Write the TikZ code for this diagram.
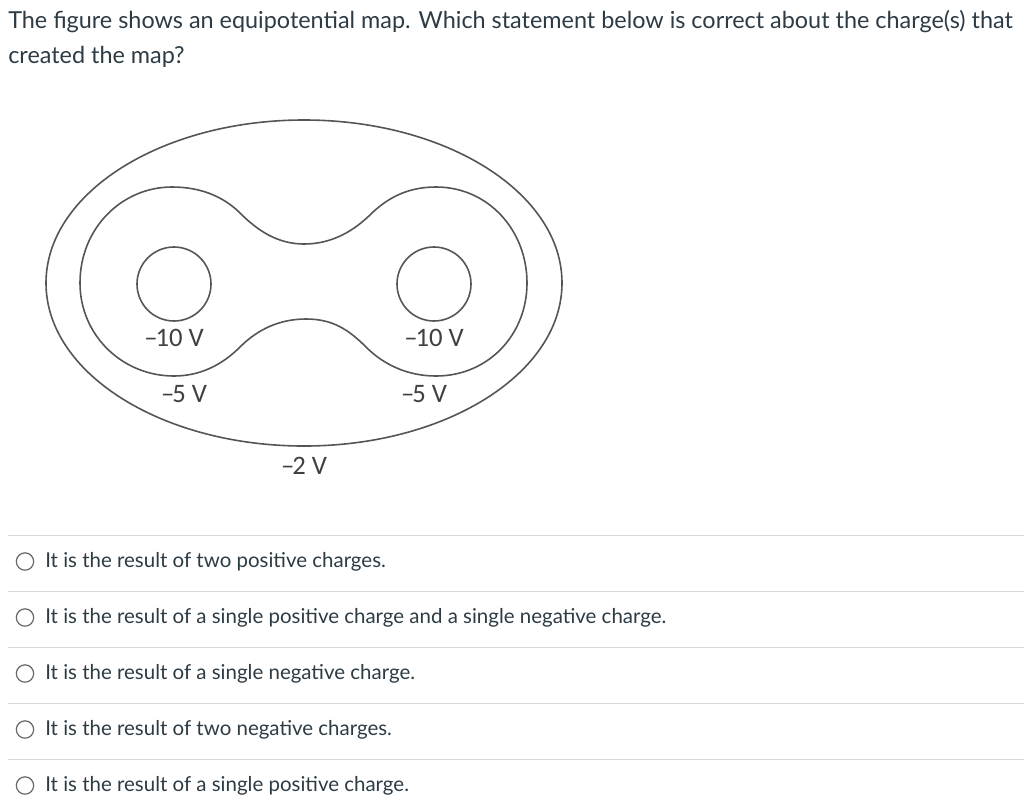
\documentclass[tikz,border=0pt]{standalone}
\usepackage{fontspec}
\setmainfont{Lato}
\newfontfamily\labelfont{Carlito}
\newcommand{\volt}[1]{–\kern-1.5pt #1 V}
\definecolor{textgray}{HTML}{2D3B45}
\definecolor{rulegray}{HTML}{D8D8D8}
\definecolor{linegray}{HTML}{555555}
\tikzset{
    question/.style={anchor=base west,inner sep=0pt,text=textgray,font=\fontsize{17.55}{20}\selectfont},
    answer/.style={anchor=base west,inner sep=0pt,text=textgray,font=\fontsize{15.35}{18}\selectfont},
    contour/.style={draw=linegray,line width=1.2pt},
    voltage/.style={inner sep=0pt,text=black!75,font=\labelfont\fontsize{20}{22}\selectfont},
    radio/.style={circle,draw=black!60,line width=0.9pt,minimum size=13pt,inner sep=0pt}
}
\begin{document}
\begin{tikzpicture}[x=0.75pt,y=-0.75pt]
        \useasboundingbox (0,0) rectangle (1024,804);

        \node[question] (line1) at (8,28) {The figure shows an equipotential map. Which statement below is correct about the charge(s) that};
        \node[question] (line2) at (8,63) {created the map?};

        % contours
        \draw[contour] (304,283) ellipse [x radius=258,y radius=163];
        \draw[contour] (174,284) circle (37);
        \draw[contour] (434,284) circle (37);
        \draw[contour] (80,283) .. controls (80,228) and (122,187) .. (172,187)
            .. controls (198,187) and (222,195) .. (240,213)
            .. controls (258,231) and (278,244) .. (304,244)
            .. controls (332,244) and (354,231) .. (372,213)
            .. controls (390,196) and (410,187) .. (436,187)
            .. controls (488,187) and (527,230) .. (527,283)
            .. controls (527,335) and (488,376) .. (436,376)
            .. controls (408,376) and (384,365) .. (366,347)
            .. controls (348,329) and (332,319) .. (306,319)
            .. controls (280,319) and (258,329) .. (240,347)
            .. controls (222,365) and (200,376) .. (174,376)
            .. controls (122,376) and (80,335) .. (80,283) -- cycle;

        \node[voltage] (leftten) at (174,338) {\volt{10}};
        \node[voltage] (rightten) at (434,338) {\volt{10}};
        \node[voltage] (leftfive) at (184,394) {\volt{5}};
        \node[voltage] (rightfive) at (424,394) {\volt{5}};
        \node[voltage] (outertwo) at (304,466) {\volt{2}};

        % answers
        \foreach \y/\txt [count=\i] in {535.5/It is the result of two positive charges.,
            591.5/It is the result of a single positive charge and a single negative charge.,
            647.5/It is the result of a single negative charge.,
            703.5/It is the result of two negative charges.,
            759.5/It is the result of a single positive charge.} {
            \draw[rulegray,line width=0.9pt] (8,\y) -- (1024,\y);
            \node[radio] (radio\i) at (25,\y+26) {};
            \node[answer] (answer\i) at (45,\y+32) {\txt};
        }
    \end{tikzpicture}
\end{document}
